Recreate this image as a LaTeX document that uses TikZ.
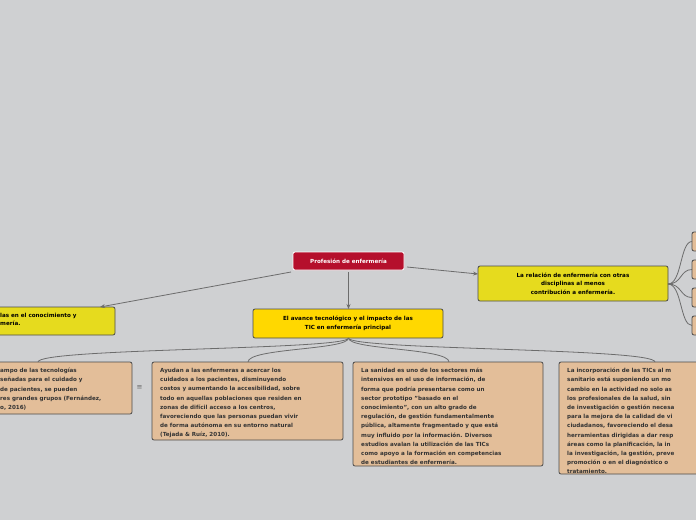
\documentclass[tikz,border=0pt]{standalone}
\usepackage{fontspec}
\setmainfont{DejaVu Sans}
\begin{document}
\begin{tikzpicture}[x=1pt,y=-1pt,
 box/.style={draw=black!70,rounded corners=2pt,line width=0.8pt,drop shadow/.style={}},
 tan/.style={box,fill=tanc},
 conn/.style={draw=gray!85!black,line width=0.8pt},
 arr/.style={conn,-{Stealth[length=5pt,width=4pt]}},
 txt/.style={font=\bfseries\fontsize{5.6}{9.2}\selectfont,anchor=north west,align=left,inner sep=0pt,text=black!80},
 ctxt/.style={font=\bfseries\fontsize{5.6}{8.5}\selectfont,align=center,inner sep=0pt}]
\usetikzlibrary{arrows.meta}
\definecolor{bg}{HTML}{CFD0D2}
\definecolor{tanc}{HTML}{E3BE99}
\definecolor{yel}{HTML}{E6DB1E}
\definecolor{gold}{HTML}{FFD800}
\definecolor{rootc}{HTML}{B50F2C}
\fill[bg] (0,0) rectangle (696,520);
\useasboundingbox (0,0) rectangle (696,520);
% boxes
\draw[box,fill=rootc,draw=white] (293,252) rectangle (404,270);
\node[ctxt,text=white] (root) at (348.5,261) {Profesión de enfermería};
\coordinate (rootl) at (291,272); \coordinate (rootb) at (348.5,272); \coordinate (rootr) at (407,267);
\draw[box,fill=yel] (-20,307) rectangle (115,335);
\node[ctxt,anchor=north west,align=left] (left) at (0,313) {las en el conocimiento y\\mería.};
\coordinate (leftt) at (100,307);
\draw[box,fill=gold] (253,309) rectangle (443,338);
\node[ctxt] (center) at (348,323.5) {El avance tecnológico y el impacto de las\\TIC en enfermería principal};
\coordinate (centert) at (348.5,309); \coordinate (centerb) at (348.5,338);
\draw[box,fill=yel] (478,266) rectangle (668,301);
\node[ctxt] (right) at (573,283.5) {La relación de enfermería con otras\\disciplinas al menos\\contribución a enfermería.};
\coordinate (rightl) at (478,274); \coordinate (rightr) at (668,284);
\foreach \y [count=\i] in {232,260,288,316} {
  \draw[tan] (692,\y) rectangle (710,\y+19);
  \coordinate (s\i) at (692,\y+9.5);
  \draw[conn] (rightr) .. controls (682,284) and (680,\y+9.5) .. (s\i);
}
% bottom boxes
\draw[tan] (-20,362) rectangle (132,414);
\node[txt] (b1) at (0,368) {ampo de las tecnologías\\señadas para el cuidado y\\de pacientes, se pueden\\res grandes grupos (Fernández,\\o, 2016)};
\node[font=\fontsize{7}{7}\selectfont,text=black!60] (icon) at (139.5,388) {≡};
\draw[tan] (152,362) rectangle (343,440);
\node[txt] (b2) at (160,368) {Ayudan a las enfermeras a acercar los\\cuidados a los pacientes, disminuyendo\\costos y aumentando la accesibilidad, sobre\\todo en aquellas poblaciones que residen en\\zonas de difícil acceso a los centros,\\favoreciendo que las personas puedan vivir\\de forma autónoma en su entorno natural\\(Tejada \& Ruíz, 2010).};
\draw[tan] (353,362) rectangle (543,466);
\node[txt] (b3) at (361,368) {La sanidad es uno de los sectores más\\intensivos en el uso de información, de\\forma que podría presentarse como un\\sector prototipo "basado en el\\conocimiento", con un alto grado de\\regulación, de gestión fundamentalmente\\pública, altamente fragmentado y que está\\muy influido por la información. Diversos\\estudios avalan la utilización de las TICs\\como apoyo a la formación en competencias\\de estudiantes de enfermería.};
\draw[tan] (559,362) rectangle (720,474);
\node[txt] (b4) at (567,368) {La incorporación de las TICs al m\\sanitario está suponiendo un mo\\cambio en la actividad no solo as\\los profesionales de la salud, sin\\de investigación o gestión necesa\\para la mejora de la calidad de vi\\ciudadanos, favoreciendo el desa\\herramientas dirigidas a dar resp\\áreas como la planificación, la in\\la investigación, la gestión, preve\\promoción o en el diagnóstico o\\tratamiento.};
% connectors
\draw[arr] (rootl) -- (leftt);
\draw[arr] (rootb) -- (centert);
\draw[arr] (rootr) -- (rightl);
\foreach \x in {38,248,449,655} {
  \draw[conn] (centerb) .. controls (348.5,350) and (\x,348) .. (\x,362);
}
\end{tikzpicture}
\end{document}
